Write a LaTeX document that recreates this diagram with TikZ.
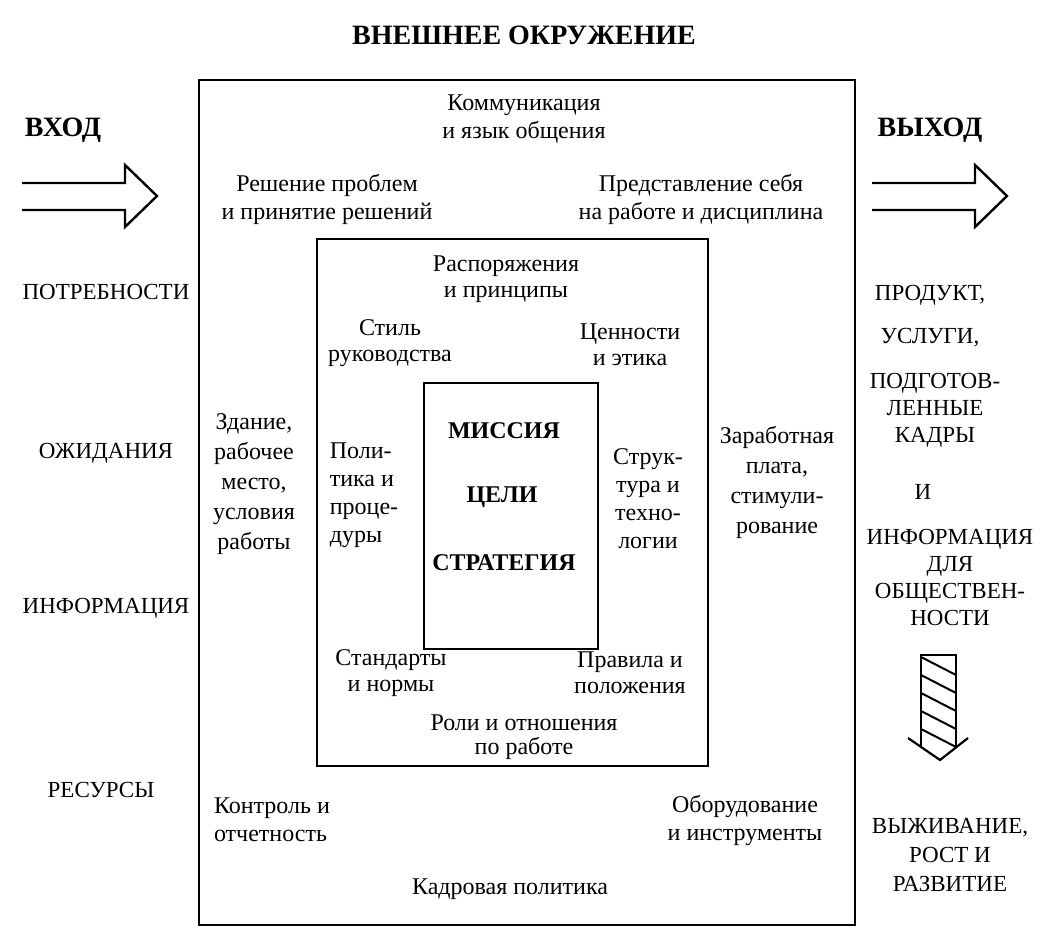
\documentclass[tikz,border=0pt]{standalone}
\usepackage{fontspec}
\setmainfont{Liberation Serif}
\begin{document}
\begin{tikzpicture}[x=0.5pt,y=-0.5pt,
  txt/.style={font=\fontsize{12}{14}\selectfont, align=center, inner sep=0pt},
  txtw/.style={font=\fontsize{12}{15}\selectfont, align=center, inner sep=0pt},
  caplabel/.style={font=\fontsize{11.5}{14}\selectfont, align=center, inner sep=0pt},
  headlabel/.style={font=\fontsize{14}{16}\selectfont\bfseries, inner sep=0pt},
  corelabel/.style={font=\fontsize{12}{14}\selectfont\bfseries, inner sep=0pt},
  bigarrow/.style={line width=1.2pt, line join=miter},
  boxline/.style={draw, line width=1.3pt}]
\useasboundingbox (0,0) rectangle (1043,947);

% boxes
\node[boxline, minimum width=328pt, minimum height=422.5pt, inner sep=0pt] (outer) at (527,502.5) {};
\node[boxline, line width=1pt, minimum width=195.5pt, minimum height=263.5pt, inner sep=0pt] (middle) at (512.5,502.5) {};
\node[boxline, line width=1.2pt, minimum width=87pt, minimum height=133pt, inner sep=0pt] (inner) at (511,516) {};

% headings
\node[headlabel] (title) at (524,35) {ВНЕШНЕЕ ОКРУЖЕНИЕ};
\node[headlabel] (vhod) at (63,130) {ВХОД};
\node[headlabel] (vyhod) at (930,130) {ВЫХОД};

% input arrow
\coordinate (ia) at (22,183);
\draw[bigarrow] (ia) -- ++(103,0) -- ++(0,-18) -- ++(32,31) -- ++(-32,31) -- ++(0,-17) -- ++(-103,0);
% output arrow
\coordinate (oa) at (872,183);
\draw[bigarrow] (oa) -- ++(103,0) -- ++(0,-18) -- ++(32,31) -- ++(-32,31) -- ++(0,-17) -- ++(-103,0);

% left labels
\node[caplabel] (potr) at (106,292) {ПОТРЕБНОСТИ};
\node[caplabel] (ozh) at (106,453) {ОЖИДАНИЯ};
\node[caplabel] (inf) at (106,608) {ИНФОРМАЦИЯ};
\node[caplabel] (res) at (101,790) {РЕСУРСЫ};

% right labels
\node[caplabel] (prod) at (930,295) {ПРОДУКТ,};
\node[caplabel] (usl) at (930,338) {УСЛУГИ,};
\node[caplabel, font=\fontsize{11.5}{13.5}\selectfont] (kadry) at (935,410) {ПОДГОТОВ-\\ЛЕННЫЕ\\КАДРЫ};
\node[caplabel] (i) at (923,492) {И};
\node[caplabel, font=\fontsize{11.5}{13.5}\selectfont] (infobsh) at (950,577) {ИНФОРМАЦИЯ\\ДЛЯ\\ОБЩЕСТВЕН-\\НОСТИ};
\node[caplabel, font=\fontsize{11.5}{14.5}\selectfont] (vyzh) at (950,855) {ВЫЖИВАНИЕ,\\РОСТ И\\РАЗВИТИЕ};

% hatched down arrow
\coordinate (da) at (921,655);
\draw[line width=1.1pt, line join=miter] (921,747) -- (da) -- (956,655) -- (956,747);
\draw[line width=1.1pt, line join=miter] (908,738) -- (940,760) -- (968,738);
\foreach \yy in {657,675,693,711,729}
  \draw[line width=1pt] (921,\yy) -- (956,\yy+18);

% outer ring texts
\node[txt] (komm) at (524,119) {Коммуникация\\и язык общения};
\node[txt] (resh) at (327,199) {Решение проблем\\и принятие решений};
\node[txt] (pred) at (701,199) {Представление себя\\на работе и дисциплина};
\node[txtw] (zdan) at (254,484) {Здание,\\рабочее\\место,\\условия\\работы};
\node[txtw] (zarab) at (777,482) {Заработная\\плата,\\стимули-\\рование};
\node[txt, align=left] (kontr) at (272,820) {Контроль и\\отчетность};
\node[txt] (obor) at (745,820) {Оборудование\\и инструменты};
\node[txt] (kadr) at (510,889) {Кадровая политика};

% middle ring texts
\node[txt, font=\fontsize{12}{13}\selectfont] (rasp) at (506,279) {Распоряжения\\и принципы};
\node[txt, font=\fontsize{12}{13}\selectfont] (stil) at (390,343) {Стиль\\руководства};
\node[txt, font=\fontsize{12}{13}\selectfont] (tsen) at (630,345) {Ценности\\и этика};
\node[txt, align=left] (polit) at (364,495) {Поли-\\тика и\\проце-\\дуры};
\node[txt] (strukt) at (648,499) {Струк-\\тура и\\техно-\\логии};
\node[txt, font=\fontsize{12}{13}\selectfont] (stand) at (391,673) {Стандарты\\и нормы};
\node[txt, font=\fontsize{12}{13}\selectfont] (prav) at (630,673) {Правила и\\положения};
\node[txt, font=\fontsize{12}{12}\selectfont] (roli) at (524,737) {Роли и отношения\\по работе};

% core
\node[corelabel] (miss) at (504,431) {МИССИЯ};
\node[corelabel] (tseli) at (502,497) {ЦЕЛИ};
\node[corelabel] (strat) at (504,563) {СТРАТЕГИЯ};
\end{tikzpicture}
\end{document}
